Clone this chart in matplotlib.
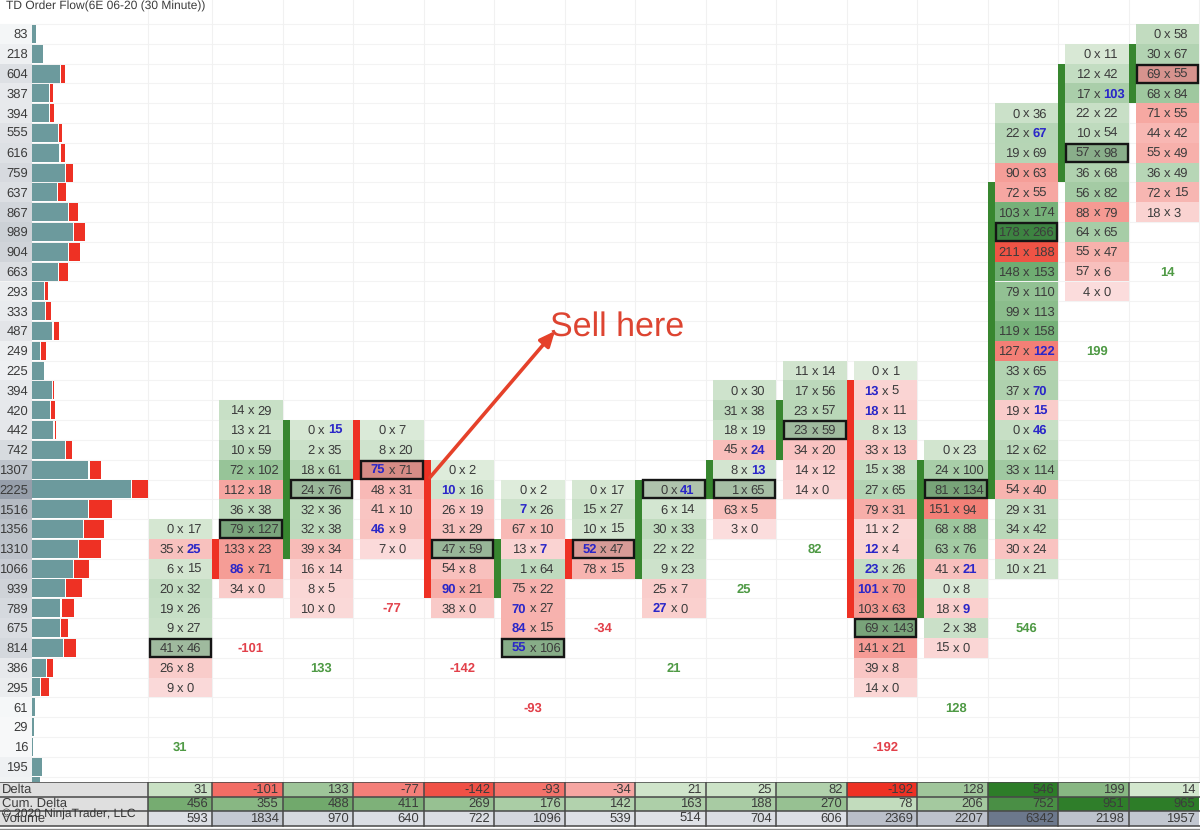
import numpy as np
import matplotlib
matplotlib.use("Agg")
import matplotlib.pyplot as plt
from matplotlib.patches import Rectangle

plt.rcParams["font.family"] = ["Liberation Sans", "DejaVu Sans"]
plt.rcParams["text.hinting"] = "none"
plt.rcParams["text.hinting_factor"] = 1

# Volume profile, one value per price row from the top
profile_volume = [83, 218, 604, 387, 394, 555, 616, 759, 637, 867, 989, 904, 663,
                  293, 333, 487, 249, 225, 394, 420, 442, 742, 1307, 2225, 1516,
                  1356, 1310, 1066, 939, 789, 675, 814, 386, 295, 61, 29, 16, 195]
profile_red = [0, 0, 64, 58, 77, 51, 90, 135, 154, 180, 199, 218, 160,
               58, 77, 96, 96, 0, 19, 70, 32, 115, 224, 333, 448,
               371, 422, 282, 314, 243, 134, 224, 115, 141, 0, 0, 0, 0]
partial_row_volume = 155

# First price row of each bar, then bid and ask for the rows below it
col_top = [25, 19, 20, 20, 22, 23, 23, 23, 18, 17, 17, 21, 4, 1, 0]
col_bids = [
    [0, 35, 6, 20, 19, 9, 41, 26, 9],
    [14, 13, 10, 72, 112, 36, 79, 133, 86, 34],
    [0, 2, 18, 24, 32, 32, 39, 16, 8, 10],
    [0, 8, 75, 48, 41, 46, 7],
    [0, 10, 26, 31, 47, 54, 90, 38],
    [0, 7, 67, 13, 1, 75, 70, 84, 55],
    [0, 15, 10, 52, 78],
    [0, 6, 30, 22, 9, 25, 27],
    [0, 31, 18, 45, 8, 1, 63, 3],
    [11, 17, 23, 23, 34, 14, 14],
    [0, 13, 18, 8, 33, 15, 27, 79, 11, 12, 23, 101, 103, 69, 141, 39, 14],
    [0, 24, 81, 151, 68, 63, 41, 0, 18, 2, 15],
    [0, 22, 19, 90, 72, 103, 178, 211, 148, 79, 99, 119, 127, 33, 37, 19, 0, 12, 33, 54, 29, 34, 30, 10],
    [0, 12, 17, 22, 10, 57, 36, 56, 88, 64, 55, 57, 4],
    [0, 30, 69, 68, 71, 44, 55, 36, 72, 18],
]
col_asks = [
    [17, 25, 15, 32, 26, 27, 46, 8, 0],
    [29, 21, 59, 102, 18, 38, 127, 23, 71, 0],
    [15, 35, 61, 76, 36, 38, 34, 14, 5, 0],
    [7, 20, 71, 31, 10, 9, 0],
    [2, 16, 19, 29, 59, 8, 21, 0],
    [2, 26, 10, 7, 64, 22, 27, 15, 106],
    [17, 27, 15, 47, 15],
    [41, 14, 33, 22, 23, 7, 0],
    [30, 38, 19, 24, 13, 65, 5, 0],
    [14, 56, 57, 59, 20, 12, 0],
    [1, 5, 11, 13, 13, 38, 65, 31, 2, 4, 26, 70, 63, 143, 21, 8, 0],
    [23, 100, 134, 94, 88, 76, 21, 8, 9, 38, 0],
    [36, 67, 69, 63, 55, 174, 266, 188, 153, 110, 113, 158, 122, 65, 70, 15, 46, 62, 114, 40, 31, 42, 24, 21],
    [11, 42, 103, 22, 54, 98, 68, 82, 79, 65, 47, 6, 0],
    [58, 67, 55, 84, 55, 42, 49, 49, 15, 3],
]
# Highest volume row of each bar
poc_rows = [31, 25, 23, 22, 26, 31, 26, 23, 23, 20, 30, 23, 10, 6, 2]
# Rows where the bid or the ask prints as an imbalance
blue_bid_rows = [[], [27], [], [22, 25], [23, 28], [24, 29, 30, 31], [26], [29], [], [],
                 [18, 19, 26, 27, 28], [], [], [], []]
blue_ask_rows = [[26], [], [20], [], [], [26], [], [23], [21, 22], [],
                 [], [27, 29], [5, 16, 18, 19, 20], [3], []]
# Candle body rows, no body on the first bar
body_start = [None, 26, 20, 20, 22, 26, 26, 23, 22, 19, 18, 22, 8, 2, 1]
body_end = [None, 27, 26, 22, 28, 28, 27, 27, 23, 21, 29, 29, 23, 7, 3]
body_up = [None, False, True, False, False, True, False, True, True, True, False, True, True, True, True]

delta_rows = [36, 31, 32, 29, 32, 34, 30, 32, 28, 26, 36, 34, 30, 16, 12]
delta = [31, -101, 133, -77, -142, -93, -34, 21, 25, 82, -192, 128, 546, 199, 14]
cum_delta = [456, 355, 488, 411, 269, 176, 142, 163, 188, 270, 78, 206, 752, 951, 965]
volume = [593, 1834, 970, 640, 722, 1096, 539, 514, 704, 606, 2369, 2207, 6342, 2198, 1957]

table_labels = ["Delta", "Cum. Delta", "Volume"]
title = "TD Order Flow(6E 06-20 (30 Minute))"
copyright_text = "© 2020 NinjaTrader, LLC"

# Layout in pixels
W, H = 1200, 830
ROW_H = 19.8
ROW0_Y = 34.0
COL_W = 70.5
COL0_X = 141.5
GAP = 7 / COL_W
LABEL_W = 32 / COL_W
X_MIN = -COL0_X / COL_W
X_MAX = (W - COL0_X) / COL_W
Y_MIN = -ROW0_Y / ROW_H
Y_MAX = (H - ROW0_Y) / ROW_H
N_ROWS = len(profile_volume)
N_COLS = len(delta)
BASELINE = 4.2 / ROW_H

TEXT = "#3c3c3c"
BLUE = "#2a26c8"
GREEN = "#37862f"
RED = "#ee3124"
TEAL = "#6c9a9d"


def mix(light, dark, t):
    t = min(max(t, 0), 1)
    return tuple((a + (b - a) * t) / 255 for a, b in zip(light, dark))


def cell_color(bid, ask):
    t = ((bid + ask) / 444) ** 0.8
    if ask >= bid:
        return mix((224, 237, 221), (70, 150, 75), t)
    return mix((251, 224, 224), (238, 70, 55), t)


def delta_color(v, top_pos, top_neg):
    if v >= 0:
        return mix((225, 240, 220), (45, 125, 40), (v / top_pos) ** 0.7)
    return mix((250, 215, 215), (238, 49, 36), (-v / top_neg) ** 0.7)


def grey_color(v, top):
    return mix((248, 249, 250), (150, 158, 170), v / top)


fig = plt.figure(figsize=(W / 100, H / 100), dpi=100)
ax = fig.add_axes([0, 0, 1, 1])
ax.set_xlim(X_MIN, X_MAX)
ax.set_ylim(Y_MAX, Y_MIN)
ax.axis("off")

# Faint grid
for r in range(-1, N_ROWS + 1):
    ax.axhline(r + 0.5, color="#f3f3f3", lw=0.8, zorder=0)
for c in range(N_COLS + 1):
    ax.axvline(c if c else GAP * 0.93, color="#f1f1f1", lw=0.8, zorder=0)

# Price ladder labels with their grey shading
rows = np.arange(N_ROWS)
ax.barh(rows, LABEL_W, left=X_MIN, height=1,
        color=[grey_color(v, max(profile_volume)) for v in profile_volume], zorder=1)
for r, v in zip(rows, profile_volume):
    ax.text(X_MIN + 28 / COL_W, r + BASELINE, str(v), ha="right", va="baseline", fontsize=9.4, color=TEXT, zorder=2)
ax.barh(N_ROWS, LABEL_W, left=X_MIN, height=1, color=grey_color(partial_row_volume, max(profile_volume)), zorder=1)

# Volume profile in its own axes
ax_p = fig.add_axes([32 / W, 0, 116 / W, 1])
ax_p.set_xlim(0, max(profile_volume))
ax_p.set_ylim(Y_MAX, Y_MIN)
ax_p.axis("off")
teal = np.array(profile_volume) - np.array(profile_red)
ax_p.barh(rows, teal, height=0.9, color=TEAL)
ax_p.barh(rows, profile_red, left=teal + 22, height=0.9, color=RED)
ax_p.barh(N_ROWS, partial_row_volume, height=0.9, color=TEAL)

# Footprint cells
ax_f = fig.add_axes([0, 0, 1, 1])
ax_f.set_xlim(X_MIN, X_MAX)
ax_f.set_ylim(Y_MAX, Y_MIN)
ax_f.axis("off")
for c in range(N_COLS):
    left = c + GAP
    mid = left + (1 - GAP) / 2
    for i, (bid, ask) in enumerate(zip(col_bids[c], col_asks[c])):
        r = col_top[c] + i
        col = cell_color(bid, ask)
        if r == poc_rows[c]:
            col = tuple(v * 0.87 for v in col)
        ax_f.add_patch(Rectangle((left, r - 0.5), 1 - GAP, 1, facecolor=col, edgecolor="none", zorder=2))
        blue_b = r in blue_bid_rows[c]
        blue_a = r in blue_ask_rows[c]
        y = r + BASELINE
        ax_f.text(mid - 6.5 / COL_W, y, str(bid), ha="right", va="baseline", fontsize=9, zorder=5,
                  color=BLUE if blue_b else TEXT, fontweight="bold" if blue_b else "normal")
        ax_f.text(mid, y, "x", ha="center", va="baseline", fontsize=9, color=TEXT, zorder=5)
        ax_f.text(mid + 6.5 / COL_W, y, str(ask), ha="left", va="baseline", fontsize=9, zorder=5,
                  color=BLUE if blue_a else TEXT, fontweight="bold" if blue_a else "normal")
    # highest volume cell gets a black frame
    ax_f.add_patch(Rectangle((left + 1 / COL_W, poc_rows[c] - 0.45), 1 - GAP - 2 / COL_W, 0.9, facecolor="none",
                             edgecolor="#151515", lw=1.7, zorder=4))
    if body_start[c] is not None:
        ax_f.add_patch(Rectangle((c, body_start[c] - 0.5), GAP, body_end[c] - body_start[c] + 1,
                                 facecolor=GREEN if body_up[c] else RED, edgecolor="none", zorder=3))
    ax_f.text(mid, delta_rows[c] + BASELINE, str(delta[c]), ha="center", va="baseline", fontsize=9.4, fontweight="bold",
              color="#4f9a45" if delta[c] > 0 else "#e2404a", zorder=5)

# Note with arrow
ax_f.annotate("", xy=(5.865, 15.0), xytext=(4.09, 22.4),
              arrowprops=dict(arrowstyle="-|>,head_length=0.9,head_width=0.4", color="#e5412a", lw=2.6,
                              shrinkA=0, shrinkB=0), zorder=6)
ax_f.text(5.79, 14.8, "Sell here", ha="left", va="center", fontsize=24.5, color="#dd4431", zorder=6)

ax_f.text(X_MIN + 6 / COL_W, Y_MIN + 6 / ROW_H, title, ha="left", va="center", fontsize=8.8, color=TEXT)

# Summary table at the bottom
TABLE_ROW_H = 14.67
ax_t = fig.add_axes([0, 0, 1, 48 / H])
ax_t.set_xlim(X_MIN, X_MAX)
ax_t.set_ylim(48 / TABLE_ROW_H, 0)
ax_t.axis("off")
ax_t.add_patch(Rectangle((X_MIN, 0), X_MAX - X_MIN, 48 / TABLE_ROW_H, facecolor="white", edgecolor="none", zorder=0))
first_left = GAP * 0.93
ax_t.add_patch(Rectangle((X_MIN, 0), first_left - X_MIN, 3, facecolor="#dfdfdf", edgecolor="none", zorder=1))
table_rows = [delta, cum_delta, volume]
table_colors = [
    [delta_color(v, max(delta), -min(delta)) for v in delta],
    [delta_color(v, max(cum_delta), 1) for v in cum_delta],
    [mix((232, 234, 238), (108, 120, 140), v / max(volume)) for v in volume],
]
for tr, (vals, cols) in enumerate(zip(table_rows, table_colors)):
    ax_t.text(X_MIN + 2 / COL_W, tr + 0.5, table_labels[tr], ha="left", va="center", fontsize=9, color=TEXT, zorder=3)
    for c, (v, col) in enumerate(zip(vals, cols)):
        left = first_left if c == 0 else c
        ax_t.add_patch(Rectangle((left, tr), c + 1 - left, 1, facecolor=col, edgecolor="none", zorder=1))
        ax_t.text(c + 1 - 4 / COL_W, tr + 0.5, str(v), ha="right", va="center", fontsize=9.3, color=TEXT, zorder=3)
for y in range(4):
    ax_t.plot([X_MIN, X_MAX], [y, y], color="#484848", lw=1.1, zorder=2)
ax_t.plot([X_MIN, X_MAX], [3.2, 3.2], color="#8a8a8a", lw=1, zorder=2)
ax_t.plot([first_left, first_left], [0, 3], color="#484848", lw=1.1, zorder=2)
for c in range(1, N_COLS):
    ax_t.plot([c, c], [0, 3], color="#484848", lw=1.1, zorder=2)
ax_t.text(X_MIN + 2 / COL_W, 2.2, copyright_text, ha="left", va="center", fontsize=8.8, color="#333333", zorder=4)

fig.savefig("out.png", dpi=100, facecolor="white")
